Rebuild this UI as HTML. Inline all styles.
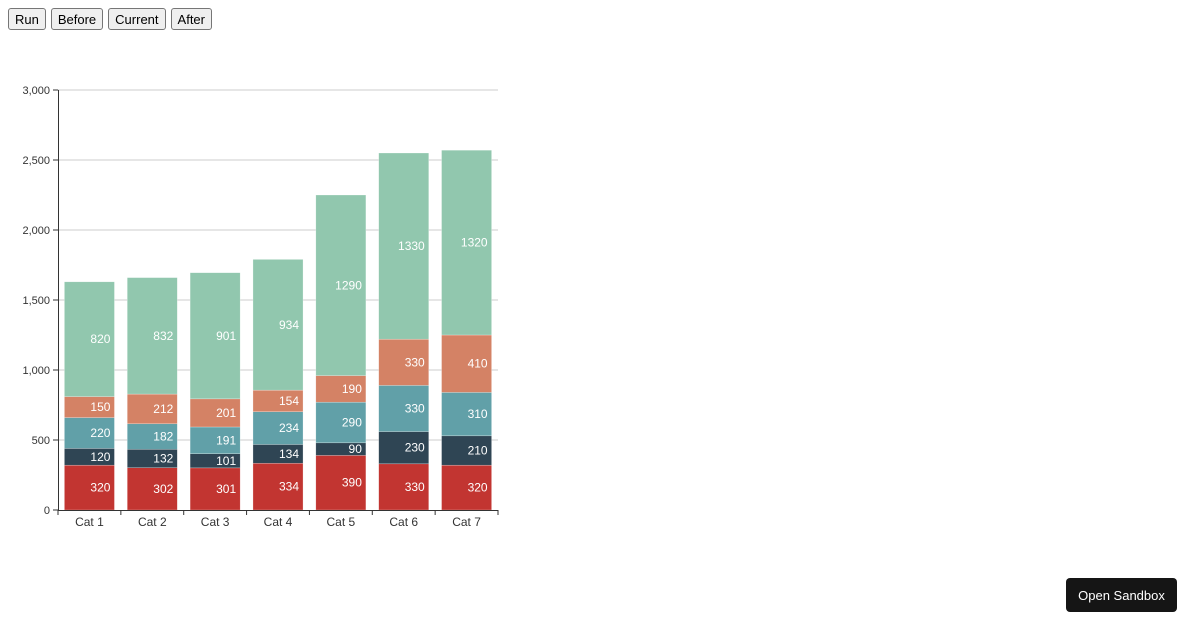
<!DOCTYPE html>
<html><head><meta charset="utf-8"><style>
body{margin:0;width:1200px;height:630px;background:#fff;font-family:"Liberation Sans",Arial,sans-serif;position:relative;overflow:hidden}
.btns{position:absolute;left:8px;top:8px;display:flex;gap:5px}
.btns button{font:13px "Liberation Sans",Arial,sans-serif;padding:1px 6px;height:22px;border:1px solid #767676;border-radius:3px;background:#efefef;color:#000}
#sandbox{position:absolute;left:1066px;top:578px;width:111px;height:34px;background:#151515;color:#fff;border:none;border-radius:4px;font:13px "Liberation Sans",Arial,sans-serif}
</style></head><body>
<div class="btns">
<button>Run</button>
<button>Before</button>
<button>Current</button>
<button>After</button>
</div>
<svg id="chart" width="1200" height="630" style="position:absolute;left:0;top:0"></svg>
<button id="sandbox">Open Sandbox</button>
<script>
const categories=["Cat 1","Cat 2","Cat 3","Cat 4","Cat 5","Cat 6","Cat 7"];
const s1=[320,302,301,334,390,330,320];
const s2=[120,132,101,134,90,230,210];
const s3=[220,182,191,234,290,330,310];
const s4=[150,212,201,154,190,330,410];
const s5=[820,832,901,934,1290,1330,1320];
const ticks=[0,500,1000,1500,2000,2500,3000];
const series=[s1,s2,s3,s4,s5];
const colors=["#c23531","#2f4554","#61a0a8","#d48265","#91c7ae"];
const NS="http://www.w3.org/2000/svg",svg=document.getElementById('chart');
const X0=58,X1=498,Y0=510,Y1=90,ymax=3000;
const y=v=>Y0-(v/ymax)*(Y0-Y1);
const bw=(X1-X0)/categories.length;
function mk(t,a,p){const e=document.createElementNS(NS,t);for(const k in a)e.setAttribute(k,a[k]);(p||svg).appendChild(e);return e;}
ticks.forEach(t=>{
 const g=mk('line',{x1:X0,x2:X1,y1:y(t),y2:y(t),stroke:t?'#ccc':'none'});
 
 
 const tk=mk('line',{x1:X0-5,x2:X0,y1:y(t),y2:y(t),stroke:'#333'});
 
 
 const tx=mk('text',{x:X0-8,y:y(t)+4,'text-anchor':'end','font-size':11,fill:'#333'});
 tx.textContent=t.toLocaleString('en-US');
 
 
});
categories.forEach((c,i)=>{
 const bx=X0+i*bw+6.4,w=bw-12.8;let acc=0;
 series.forEach((s,j)=>{
  const v=s[i],top=y(acc+v),bot=y(acc);
  const r=mk('rect',{x:bx,y:top,width:w,height:bot-top,fill:colors[j],stroke:'rgba(255,255,255,0.5)','stroke-width':0.5});
  
  
  const l=mk('text',{x:bx+w-4,y:(top+bot)/2+4,'text-anchor':'end','font-size':12,fill:'#fff'});
  l.textContent=v;
  
  
  acc+=v;
 });
 const tk=mk('line',{x1:X0+(i+1)*bw,x2:X0+(i+1)*bw,y1:Y0,y2:Y0+5,stroke:'#333'});
 
 
 const tx=mk('text',{x:X0+(i+0.5)*bw,y:Y0+16,'text-anchor':'middle','font-size':12,fill:'#333'});
 tx.textContent=c;
 
 
});
const t0=mk('line',{x1:X0,x2:X0,y1:Y0,y2:Y0+5,stroke:'#333'});


const ya=mk('line',{x1:X0+.5,x2:X0+.5,y1:Y1,y2:Y0,stroke:'#333'});


const xa=mk('line',{x1:X0,x2:X1,y1:Y0+.5,y2:Y0+.5,stroke:'#333'});


</script>
</body></html>
